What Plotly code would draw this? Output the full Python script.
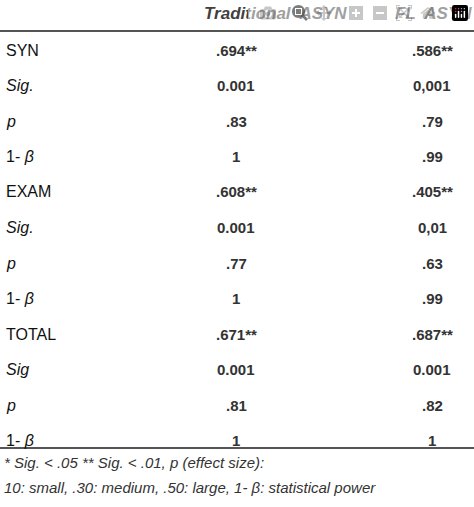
import plotly.graph_objects as go

labels = ["SYN", "Sig.", "p", "1- β", "EXAM", "Sig.", "p", "1- β", "TOTAL", "Sig", "p", "1- β"]
italic = [False, True, True, False, False, True, True, False, False, True, True, False]
trad = [".694**", "0.001", ".83", "1", ".608**", "0.001", ".77", "1", ".671**", "0.001", ".81", "1"]
fl = [".586**", "0,001", ".79", ".99", ".405**", "0,01", ".63", ".99", ".687**", "0.001", ".82", "1"]
headers = ["Traditional  ASYN", "FL  ASYN"]
footnotes = ["* Sig. < .05 ** Sig. < .01, p (effect size):",
             "10: small, .30: medium, .50: large, 1- β: statistical power"]

W, H = 474, 507
F = "Liberation Sans, Arial, sans-serif"
fig = go.Figure()
ann = []
def py(y): return 1 - y / H
def A(**k):
    k.update(xref="paper", yref="paper", showarrow=False, yanchor="middle")
    ann.append(k)

A(x=275/W, y=py(13), text=f"<b><i>{headers[0]}</i></b>", xanchor="center",
  font=dict(family=F, size=17, color="#404040"))
A(x=474/W, y=py(13), text=f"<b><i>{headers[1]}</i></b>", xanchor="right",
  font=dict(family=F, size=17, color="#404040"))
for i, lab in enumerate(labels):
    y = py(50 + i * 35.5)
    t = lab
    if lab.startswith("1- "):
        t = "1- <i>β</i>"
    elif italic[i]:
        t = f"<i>{lab}</i>"
    A(x=4/W, y=y, text=t, xanchor="left", font=dict(family=F, size=16, color="#111111"))
    A(x=236/W, y=y, text=f"<b>{trad[i]}</b>", xanchor="center", font=dict(family=F, size=15, color="#333333"))
    A(x=432/W, y=y, text=f"<b>{fl[i]}</b>", xanchor="center", font=dict(family=F, size=15, color="#333333"))
for j, fn in enumerate(footnotes):
    A(x=2/W, y=py(462 + j * 25), text=f"<i>{fn}</i>", xanchor="left",
      font=dict(family=F, size=15, color="#333333"))

shapes = [dict(type="line", xref="paper", yref="paper", x0=0, x1=1, y0=py(31), y1=py(31),
               line=dict(color="#555555", width=2)),
          dict(type="line", xref="paper", yref="paper", x0=0, x1=1, y0=py(448), y1=py(448),
               line=dict(color="#555555", width=2))]

fig.update_layout(width=W, height=H, margin=dict(l=0, r=0, t=0, b=0),
                  plot_bgcolor="white", paper_bgcolor="white",
                  xaxis=dict(visible=False), yaxis=dict(visible=False),
                  annotations=ann, shapes=shapes)
fig.write_html("out.html", post_script="document.body.style.margin='0';")
